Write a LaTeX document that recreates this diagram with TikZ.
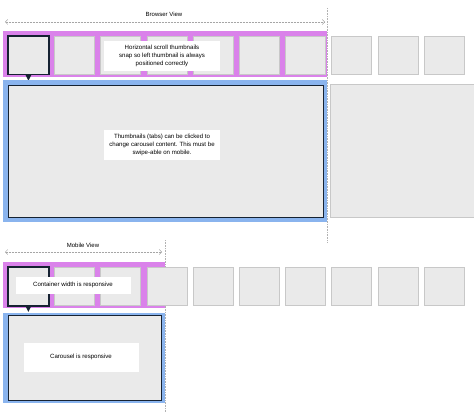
\documentclass[tikz,border=0pt]{standalone}
\usepackage{fontspec}
\setmainfont{Liberation Sans}
\usepackage{tikz}
\usetikzlibrary{arrows.meta, positioning}
\definecolor{barpurple}{RGB}{218,130,234}
\definecolor{boxblue}{RGB}{138,180,238}
\definecolor{thumbgrey}{RGB}{234,234,234}
\definecolor{thumbline}{RGB}{200,200,200}
\definecolor{navy}{RGB}{22,34,50}

\begin{document}
\begin{tikzpicture}[x=1pt, y=-1pt,
    thumb/.style={draw=thumbline, fill=thumbgrey, line width=0.8pt, anchor=north west, minimum width=40pt, minimum height=38pt, inner sep=0pt},
    active/.style={draw=navy, line width=1.4pt},
    note/.style={fill=white, align=center, font=\fontsize{6.1}{7.8}\selectfont, inner sep=0pt},
    span/.style={draw=gray!70, densely dotted, line width=0.5pt, {Straight Barb[length=2.5pt,width=5pt]}-{Straight Barb[length=2.5pt,width=5pt]}},
    edge/.style={draw=gray!60, densely dotted, line width=0.6pt}]
    \useasboundingbox (0,0) rectangle (474,412);

    % Browser view
    \node[font=\fontsize{6}{7}\selectfont] at (164,14) (browser) {Browser View};
    \coordinate (bl) at (5,22);
    \coordinate (br) at (325,22);
    \draw[span] (bl) -- (br);
    \coordinate (et) at (327,8);
    \coordinate (eb) at (327,242);
    \draw[edge] (et) -- (eb);

    \fill[barpurple] (3,31) rectangle (327,77);
    \foreach \i in {0,...,9}
        \node[thumb] at ({8+46.2*\i},36) (t\i) {};
    \draw[active] (t0.north west) rectangle (t0.south east);
    \fill[navy] (t0.south) ++(-3,0) -- ++(6,0) -- ++(-3,6) -- cycle;

    \node[note, minimum width=116pt, minimum height=30pt] at (162,56) (scroll) {Horizontal scroll thumbnails\\snap so left thumbnail is always\\positioned correctly};

    \fill[boxblue] (3,80) rectangle (327,222);
    \node[fill=thumbgrey, draw=navy, line width=1.4pt, anchor=north west, minimum width=315pt, minimum height=132pt, inner sep=0pt] at (8,85) (car) {};
    \node[note, minimum width=116pt, minimum height=30pt] at (162,145) (tabs) {Thumbnails (tabs) can be clicked to\\change carousel content. This must be\\swipe-able on mobile.};
    \node[thumb, minimum width=150pt, minimum height=133pt] at (330,84) (next) {};

    % Mobile view
    \node[font=\fontsize{6}{7}\selectfont] at (83,245) (mobile) {Mobile View};
    \coordinate (ml) at (5,252);
    \coordinate (mr) at (162,252);
    \draw[span] (ml) -- (mr);
    \coordinate (mt) at (165,240);
    \coordinate (mb) at (165,412);
    \draw[edge] (mt) -- (mb);

    \fill[barpurple] (3,262) rectangle (165,308);
    \foreach \i in {0,...,9}
        \node[thumb] at ({8+46.2*\i},267) (m\i) {};
    \draw[active] (m0.north west) rectangle (m0.south east);
    \fill[navy] (m0.south) ++(-3,0) -- ++(6,0) -- ++(-3,6) -- cycle;
    \node[note, minimum width=115pt, minimum height=17pt] at (73,285) (width) {Container width is responsive};

    \fill[boxblue] (3,313) rectangle (165,403);
    \node[fill=thumbgrey, draw=navy, line width=1.4pt, anchor=north west, minimum width=153pt, minimum height=85pt, inner sep=0pt] at (8,315) (mcar) {};
    \node[note, minimum width=115pt, minimum height=29pt] at (81,357) (resp) {Carousel is responsive};
\end{tikzpicture}
\end{document}
